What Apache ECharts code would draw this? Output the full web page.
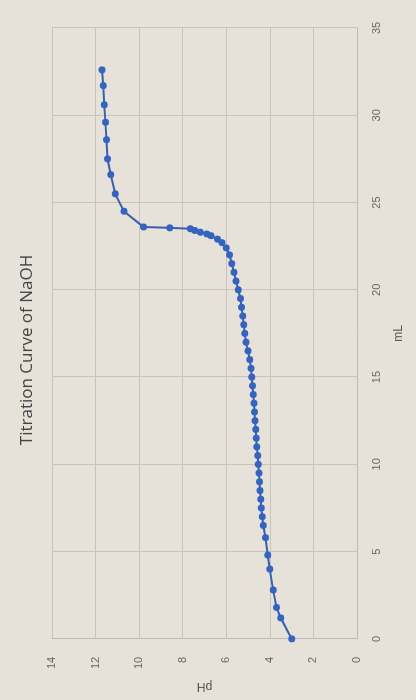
<!DOCTYPE html>
<html><head><meta charset="utf-8">
<script src="https://cdn.jsdelivr.net/npm/echarts@6/dist/echarts.min.js"></script>
<style>
html,body{margin:0;padding:0;width:416px;height:700px;overflow:hidden;background:#e6e2da;}
#c{position:absolute;left:0;top:0;width:700px;height:416px;transform-origin:0 0;transform:translate(0,700px) rotate(-90deg);}
</style></head><body>
<div id="c"></div>
<script>
const mL = [0,1.2,1.8,2.8,4.0,4.8,5.8,6.5,7,7.5,8,8.5,9,9.5,10,10.5,11,11.5,12,12.5,13,13.5,14,14.5,15,15.5,16,16.5,17,17.5,18,18.5,19,19.5,20,20.5,21,21.5,22,22.4,22.7,22.9,23.1,23.2,23.3,23.4,23.5,23.55,23.6,24.5,25.5,26.6,27.5,28.6,29.6,30.6,31.7,32.6];
const pH = [3.0,3.5,3.7,3.85,4.0,4.1,4.2,4.3,4.35,4.4,4.42,4.45,4.48,4.5,4.53,4.56,4.6,4.62,4.65,4.68,4.7,4.73,4.76,4.8,4.83,4.87,4.92,5.0,5.1,5.15,5.2,5.25,5.3,5.35,5.45,5.55,5.65,5.75,5.85,6.0,6.2,6.4,6.7,6.9,7.2,7.45,7.65,8.6,9.8,10.7,11.1,11.3,11.45,11.5,11.55,11.6,11.65,11.7];
const chart = echarts.init(document.getElementById('c'));
chart.setOption({
  backgroundColor:'#e6e2da',
  title:{text:'Titration Curve of NaOH',left:'center',top:14,textStyle:{fontFamily:'Open Sans',fontSize:17,fontWeight:'normal',color:'#444'}},
  grid:{left:60,right:28,top:52,height:305},
  xAxis:{type:'value',min:0,max:35,interval:5,name:'mL',nameLocation:'middle',nameGap:36,
    nameTextStyle:{color:'#555',fontSize:12},
    axisLine:{show:true,lineStyle:{color:'#bbb'}},axisTick:{show:false},
    axisLabel:{color:'#666',fontSize:11,margin:14},splitLine:{lineStyle:{color:'#c8c4bc'}}},
  yAxis:{type:'value',min:0,max:14,interval:2,name:'pH',nameLocation:'middle',nameGap:40,
    nameTextStyle:{color:'#555',fontSize:12},
    axisLine:{show:true,lineStyle:{color:'#bbb'}},axisTick:{show:false},
    axisLabel:{color:'#666',fontSize:11,margin:18},splitLine:{lineStyle:{color:'#c8c4bc'}}},
  series:[{type:'line',data:mL.map((v,i)=>[v,pH[i]]),symbol:'circle',symbolSize:7,
    itemStyle:{color:'#3563c0'},lineStyle:{color:'#3a5fae',width:2}}]
});
</script></body></html>
